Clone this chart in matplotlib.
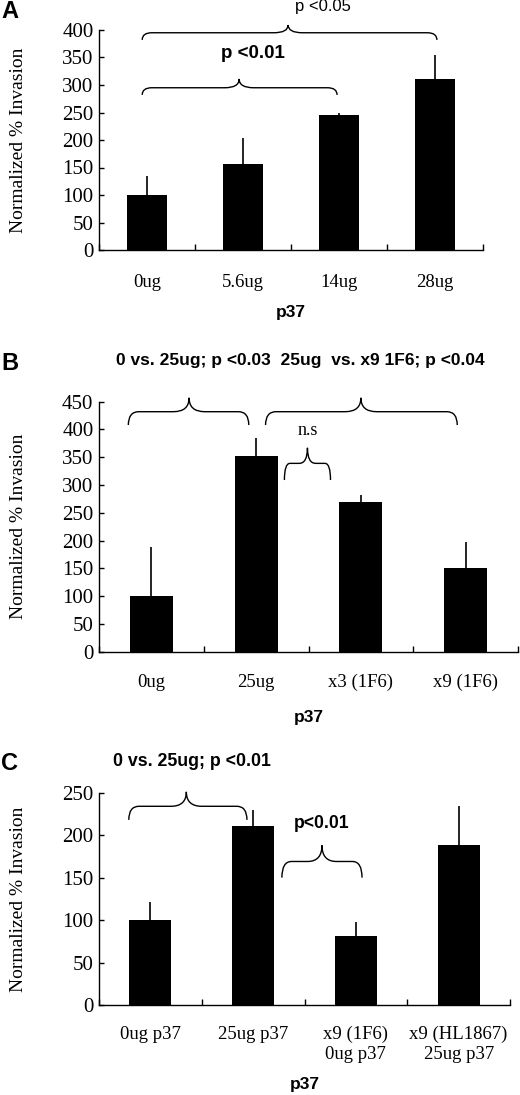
import numpy as np
import matplotlib
matplotlib.use("Agg")
import matplotlib.pyplot as plt
from matplotlib.path import Path
from matplotlib.patches import PathPatch

# data (one-sided SE bars, upper part only)
a_labels = ['0ug', '5.6ug', '14ug', '28ug']
a_vals = [100, 157, 246, 311]
a_err = [35, 47, 4, 44]

b_labels = ['0ug', '25ug', 'x3 (1F6)', 'x9 (1F6)']
b_vals = [100, 353, 270, 150]
b_err = [89, 32, 12, 47]

c_labels = ['0ug p37', '25ug p37', 'x9 (1F6)\n0ug p37', 'x9 (HL1867)\n25ug p37']
c_vals = [100, 211, 81, 188]
c_err = [21, 19, 17, 46]

SERIF = 'Liberation Serif'
SANS = 'Liberation Sans'
W, H = 520, 1095


def brace(ax, x0, x1, xm, y_lo, y, y_hi):
    """curly bracket opening down, cusp pointing up at xm"""
    de = min(0.1, (x1 - x0) * 0.12)
    dm = min(0.15, (x1 - x0) * 0.18)
    verts = [(x0, y_lo), (x0, y), (x0 + de, y),
             (xm - dm, y), (xm, y), (xm, y_hi),
             (xm, y), (xm + dm, y),
             (x1 - de, y), (x1, y), (x1, y_lo)]
    codes = [Path.MOVETO, Path.CURVE3, Path.CURVE3,
             Path.LINETO, Path.CURVE3, Path.CURVE3,
             Path.CURVE3, Path.CURVE3,
             Path.LINETO, Path.CURVE3, Path.CURVE3]
    ax.add_patch(PathPatch(Path(verts, codes), fill=False, edgecolor='black',
                           lw=1.0, clip_on=False))


def make_panel(rect, labels, vals, err, ymax, pad, xlab_y):
    ax = fig.add_axes(rect)
    x = np.arange(len(vals))
    ax.bar(x, vals, width=0.41, color='black', zorder=2)
    ax.errorbar(x, vals, yerr=[np.zeros(len(err)), err], fmt='none',
                ecolor='black', elinewidth=1.2, capsize=0, zorder=3)
    ax.set_xlim(-0.5, len(vals) - 0.5)
    ax.set_ylim(0, ymax)
    ax.set_yticks(np.arange(0, ymax + 1, 50))
    ax.set_xticks(x)
    ax.set_xticks(np.arange(-0.5, len(vals), 1.0), minor=True)
    ax.set_xticklabels(labels, fontfamily=SERIF, fontsize=13.5)
    for t in ax.get_yticklabels():
        t.set_fontfamily(SERIF)
        t.set_fontsize(15)
    ax.tick_params(axis='x', which='major', length=0, pad=pad)
    ax.tick_params(axis='x', which='minor', direction='in', length=4, width=1)
    ax.tick_params(axis='y', direction='in', length=3.5, width=1, pad=4)
    for s in ['top', 'right']:
        ax.spines[s].set_visible(False)
    for s in ['left', 'bottom']:
        ax.spines[s].set_linewidth(1.0)
    ax.set_ylabel('Normalized % Invasion', fontfamily=SERIF, fontsize=14)
    ax_w = rect[2] * W
    ax.yaxis.set_label_coords(-(99 - 27) / ax_w, 0.5)
    ax.set_xlabel('p37', fontfamily=SANS, fontsize=12.5, fontweight='bold',
                  va='center')
    ax.xaxis.set_label_coords(0.5, xlab_y)
    return ax


fig = plt.figure(figsize=(W / 100, H / 100), dpi=100)

# ---- panel A
axA = make_panel([99 / W, 1 - 250 / H, 384 / W, 220 / H], a_labels, a_vals, a_err,
                 400, 17.5, -63 / 220)
brace(axA, -0.05, 3.02, 1.47, 382, 395, 409)
brace(axA, -0.05, 1.98, 0.96, 282, 295, 311)
axA.text(1.83, 442, 'p <0.05', fontfamily=SANS, fontsize=12, ha='center', va='center',
         clip_on=False)
axA.text(1.10, 358, 'p <0.01', fontfamily=SANS, fontsize=13.5, fontweight='bold',
         ha='center', va='center', clip_on=False)

# ---- panel B
axB = make_panel([99 / W, 1 - 651.7 / H, 419 / W, 250 / H], b_labels, b_vals, b_err,
                 450, 16, -66 / 250)
brace(axB, -0.22, 0.93, 0.36, 408, 432, 457)
brace(axB, 1.09, 2.92, 2.0, 408, 432, 457)
brace(axB, 1.27, 1.71, 1.49, 309, 339, 367)
axB.text(1.49, 398, 'n.s', fontfamily=SERIF, fontsize=13, ha='center', va='center')

# ---- panel C
axC = make_panel([99 / W, 1 - 1005 / H, 411 / W, 212.3 / H], c_labels, c_vals, c_err,
                 250, 15, -80 / 212.3)
brace(axC, -0.21, 0.94, 0.35, 218, 234, 251)
brace(axC, 1.28, 2.06, 1.67, 150, 169, 188)
axC.text(1.67, 214, 'p<0.01', fontfamily=SANS, fontsize=12.7, fontweight='bold',
         ha='center', va='center')

# titles and panel letters
fig.text(300 / W, 1 - 360 / H, '0 vs. 25ug; p <0.03  25ug  vs. x9 1F6; p <0.04',
         fontfamily=SANS, fontsize=12.5, fontweight='bold', ha='center', va='center')
fig.text(113 / W, 1 - 762 / H, '0 vs. 25ug; p <0.01',
         fontfamily=SANS, fontsize=12.8, fontweight='bold', ha='left', va='center')
for letter, py in [('A', 12), ('B', 363), ('C', 764)]:
    fig.text(1 / W, 1 - py / H, letter, fontfamily=SANS, fontsize=17,
             fontweight='bold', ha='left', va='center')

fig.savefig('out.png', dpi=100)
